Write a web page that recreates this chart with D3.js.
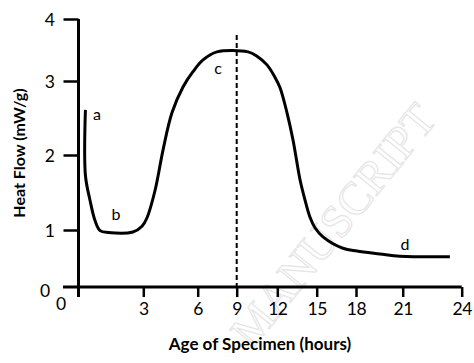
<!DOCTYPE html>
<html>
<head>
<meta charset="utf-8">
<script src="https://cdn.jsdelivr.net/npm/d3@7"></script>
<style>
  body { margin: 0; background: #fff; }
  svg { display: block; font-family: Lato, "Open Sans", sans-serif; }
</style>
</head>
<body>
<svg id="chart" width="474" height="363"></svg>
<script>
// hours vs heat flow
var hours = [0.32, 0.32, 0.53, 0.76, 1.0, 1.37, 2.52, 2.94, 3.2, 3.65, 4.09, 4.58, 5.19, 5.74,
             6.41, 7.48, 9.84, 10.5, 11.24, 11.83, 12.21, 12.74, 13.2, 13.73, 14.11, 14.49,
             14.87, 15.48, 17.0, 18.06, 19.54, 20.83, 23.4];
var heatFlow = [2.61, 1.73, 1.40, 1.13, 0.99, 0.956, 0.965, 1.05, 1.16, 1.53, 2.07, 2.57, 2.92, 3.15,
                3.34, 3.47, 3.47, 3.40, 3.26, 3.06, 2.91, 2.57, 2.20, 1.67, 1.40, 1.17,
                1.03, 0.88, 0.68, 0.63, 0.58, 0.54, 0.53];

var xTicks = [3, 6, 9, 12, 15, 18, 21, 24];
var yTicks = [1, 2, 3, 4];
var markerHour = 9;
var markerTop = 3.74;

var pointLabels = ['a', 'b', 'c', 'd'];
var labelHours = [0.86, 1.74, 7.56, 21.12];
var labelFlows = [2.47, 1.13, 3.11, 0.65];

var svg = d3.select('#chart');

// the original axes are not evenly spaced, so use piecewise scales
var x = d3.scaleLinear()
    .domain([0, 3, 6, 9, 12, 15, 18, 21, 24])
    .range([78.5, 143.3, 197.7, 236.7, 277.3, 316.7, 356, 402.7, 461.7]);
var y = d3.scaleLinear()
    .domain([0, 1, 2, 3, 4])
    .range([287, 230, 155, 81, 19]);

// faint watermark
svg.append('text')
    .attr('transform', 'translate(252,350) rotate(-51)')
    .attr('font-family', '"Liberation Serif", "DejaVu Serif", serif')
    .attr('font-size', 46)
    .attr('fill', 'none')
    .attr('stroke', '#e6e6e6')
    .attr('stroke-width', 1.2)
    .text('MANUSCRIPT');

// axes
var xAxis = svg.append('g')
    .attr('transform', 'translate(0,' + y(0) + ')')
    .call(d3.axisBottom(x).tickValues(xTicks).tickSize(10).tickPadding(6).tickFormat(d3.format('d')));
var yAxis = svg.append('g')
    .attr('transform', 'translate(' + x(0) + ',0)')
    .call(d3.axisLeft(y).tickValues(yTicks).tickSize(15).tickPadding(9).tickFormat(d3.format('d')));

[xAxis, yAxis].forEach(function(g) {
    g.select('.domain').remove();
    g.selectAll('line').attr('stroke', '#000').attr('stroke-width', 2.5);
    g.selectAll('text')
        .attr('fill', '#000')
        .attr('font-size', 17.5)
        .attr('letter-spacing', -0.5)
        .attr('font-family', 'Lato, sans-serif');
});
yAxis.selectAll('text').attr('dy', '0.38em');

// axis lines, extended past the origin like the original
svg.append('line')
    .attr('x1', 63).attr('x2', x(24))
    .attr('y1', y(0)).attr('y2', y(0))
    .attr('stroke', '#000').attr('stroke-width', 3);
svg.append('line')
    .attr('x1', x(0)).attr('x2', x(0))
    .attr('y1', y(4)).attr('y2', 297)
    .attr('stroke', '#000').attr('stroke-width', 3);

// zero labels
svg.append('text').attr('x', 45).attr('y', 297)
    .attr('text-anchor', 'middle').attr('font-size', 17.5).text('0');
svg.append('text').attr('x', 61).attr('y', 310)
    .attr('text-anchor', 'middle').attr('font-size', 17.5).text('0');

// dashed marker at 9 h
svg.append('line')
    .attr('x1', x(markerHour)).attr('x2', x(markerHour))
    .attr('y1', y(markerTop)).attr('y2', y(0))
    .attr('stroke', '#000').attr('stroke-width', 2)
    .attr('stroke-dasharray', '5,3');

// the curve
var pts = hours.map(function(h, i) { return [h, heatFlow[i]]; });
var line = d3.line()
    .x(function(d) { return x(d[0]); })
    .y(function(d) { return y(d[1]); })
    .curve(d3.curveCatmullRom.alpha(0.5));

svg.append('path')
    .datum(pts)
    .attr('d', line)
    .attr('fill', 'none')
    .attr('stroke', '#000')
    .attr('stroke-width', 3)
    .attr('stroke-linejoin', 'round');

// point labels
svg.selectAll('.pt-label')
    .data(pointLabels)
    .enter().append('text')
    .attr('class', 'pt-label')
    .attr('x', function(d, i) { return x(labelHours[i]); })
    .attr('y', function(d, i) { return y(labelFlows[i]); })
    .attr('text-anchor', 'middle')
    .attr('font-size', 16)
    .text(function(d) { return d; });

// titles
svg.append('text')
    .attr('x', 260).attr('y', 350)
    .attr('text-anchor', 'middle')
    .attr('font-weight', 'bold')
    .attr('font-size', 17)
    .text('Age of Specimen (hours)');

svg.append('text')
    .attr('transform', 'translate(25,153) rotate(-90)')
    .attr('text-anchor', 'middle')
    .attr('font-weight', 'bold')
    .attr('font-size', 16)
    .text('Heat Flow (mW/g)');
</script>
</body>
</html>
